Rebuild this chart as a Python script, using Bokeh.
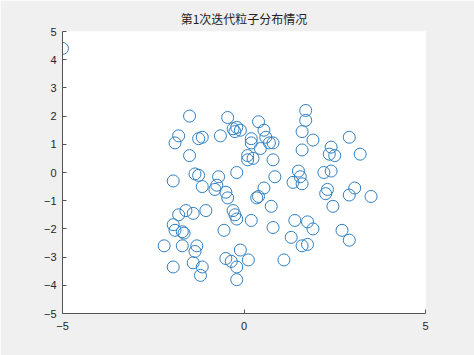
from bokeh.plotting import figure
from bokeh.models import Range1d, FixedTicker
from bokeh.embed import file_html
from bokeh.resources import INLINE

# Particle positions after the first iteration
px = [-5.0,
      -1.5, -1.8, -1.9, -1.25, -1.15, -1.5, -0.65, -0.45, -0.3, -0.2, -0.25, -0.1,
      0.4, 0.55, 0.2, 0.2, 0.6, 0.7, 0.8, 0.45, 0.1, 0.25, 0.1, 0.8, -0.2, 0.85,
      1.7, 1.7, 1.6, 1.9, 1.6, 2.9, 2.4, 2.35, 2.5, 3.2, 1.5, 1.55, 1.6, 1.35,
      2.2, 2.4, 2.3, 2.25, 2.9, 3.05, 3.5, 2.45,
      0.55, 0.4, 0.35, 0.75, -1.95, -1.35, -1.25, -1.15, -0.7, -0.75, -0.8, -0.5, -0.45,
      -1.6, -1.8, -1.4, -1.05, -1.95, -1.9, -1.7, -1.65, -2.2, -1.7, -1.3, -1.35,
      -1.4, -1.95, -1.15, -1.2,
      -0.3, -0.25, -0.2, 0.2, -0.55, -0.1, -0.5, -0.35, -0.2, 0.12, -0.2,
      1.4, 1.75, 1.9, 0.8, 1.3, 1.6, 1.75, 1.1, 2.7, 2.9]
py = [4.4,
      2.0, 1.3, 1.05, 1.2, 1.25, 0.6, 1.3, 1.95, 1.55, 1.6, 1.45, 1.5,
      1.8, 1.5, 1.2, 1.05, 1.25, 1.05, 1.05, 0.85, 0.6, 0.5, 0.45, 0.45, 0.0, -0.15,
      2.2, 1.85, 1.45, 1.15, 0.8, 1.25, 0.9, 0.65, 0.6, 0.65, 0.05, -0.15, -0.4, -0.35,
      0.0, 0.05, -0.6, -0.75, -0.8, -0.55, -0.85, -1.2,
      -0.55, -0.85, -0.9, -1.2, -0.3, -0.05, -0.1, -0.5, -0.15, -0.45, -0.6, -0.7, -0.9,
      -1.35, -1.5, -1.45, -1.35, -1.85, -2.05, -2.1, -2.15, -2.6, -2.6, -2.6, -2.8,
      -3.2, -3.35, -3.35, -3.65,
      -1.35, -1.5, -1.65, -1.7, -2.05, -2.75, -3.05, -3.15, -3.35, -3.1, -3.8,
      -1.7, -1.75, -2.0, -1.95, -2.3, -2.6, -2.55, -3.1, -2.05, -2.4]

x_ticks = [-5, 0, 5]
y_ticks = [-5, -4, -3, -2, -1, 0, 1, 2, 3, 4, 5]
title_text = "第1次迭代粒子分布情况"

p = figure(width=474, height=355, output_backend="svg", toolbar_location=None,
           x_range=Range1d(-5, 5), y_range=Range1d(-5, 5),
           min_border_left=62, min_border_right=49,
           min_border_top=31, min_border_bottom=42)

p.background_fill_color = "white"
p.border_fill_color = "#f0f0f0"
p.outline_line_color = None
p.grid.visible = False

p.title.text = title_text
p.title.align = "center"
p.title.text_font = "Noto Sans CJK SC"
p.title.text_font_size = "12px"
p.title.text_font_style = "normal"
p.title.text_color = "#222222"

for ax in (p.xaxis, p.yaxis):
    ax.axis_line_color = "#555555"
    ax.axis_line_width = 1
    ax.major_tick_in = 4
    ax.major_tick_out = 0
    ax.major_tick_line_color = "#555555"
    ax.minor_tick_line_color = None
    ax.major_label_text_font = "Liberation Sans"
    ax.major_label_text_font_size = "11px"
    ax.major_label_text_color = "#262626"

p.xaxis.ticker = FixedTicker(ticks=x_ticks)
p.yaxis.ticker = FixedTicker(ticks=y_ticks)
p.xaxis.major_label_standoff = 8
p.yaxis.major_label_standoff = 6

p.scatter(px, py, marker="circle", size=12, fill_color=None,
          line_color="#2f7fc1", line_width=1)

open("out.html", "w").write(file_html(p, INLINE))
